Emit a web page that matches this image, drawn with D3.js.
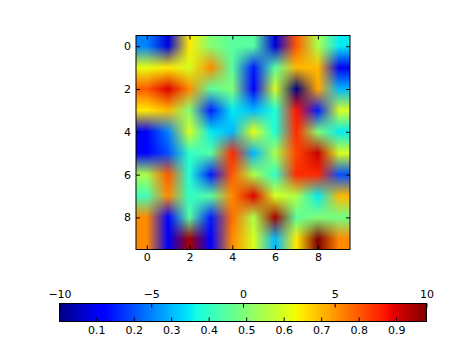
<!DOCTYPE html>
<html>
<head>
<meta charset="utf-8">
<script src="https://cdn.jsdelivr.net/npm/d3@7"></script>
<style>
  body { margin: 0; background: #fff; }
  text { font-family: "DejaVu Sans", sans-serif; font-size: 11px; fill: #000; }
</style>
</head>
<body>
<div id="chart"></div>
<script>
// 10x10 random field (row 0 at the top)
var values = [
  [0.25, 0.08, 0.65, 0.50, 0.45, 0.45, 0.08, 0.80, 0.55, 0.35],
  [0.62, 0.65, 0.60, 0.75, 0.45, 0.15, 0.45, 0.70, 0.70, 0.10],
  [0.80, 0.90, 0.75, 0.45, 0.50, 0.12, 0.60, 0.002, 0.72, 0.30],
  [0.65, 0.70, 0.50, 0.15, 0.35, 0.30, 0.38, 0.87, 0.15, 0.60],
  [0.10, 0.25, 0.60, 0.35, 0.30, 0.62, 0.38, 0.85, 0.50, 0.35],
  [0.12, 0.20, 0.40, 0.45, 0.85, 0.30, 0.55, 0.82, 0.92, 0.60],
  [0.55, 0.80, 0.38, 0.15, 0.80, 0.55, 0.40, 0.85, 0.85, 0.20],
  [0.42, 0.75, 0.40, 0.45, 0.75, 0.90, 0.60, 0.55, 0.35, 0.70],
  [0.75, 0.12, 0.45, 0.15, 0.78, 0.55, 0.95, 0.45, 0.50, 0.48],
  [0.75, 0.10, 0.95, 0.12, 0.75, 0.60, 0.30, 0.65, 0.981, 0.75]
];
var axisTicks = [0, 2, 4, 6, 8];
var barTicks = [0.1, 0.2, 0.3, 0.4, 0.5, 0.6, 0.7, 0.8, 0.9];
var topTicks = [-10, -5, 0, 5, 10];

var width = 474, height = 357;
var svg = d3.select('#chart').append('svg')
  .attr('width', width)
  .attr('height', height);

// jet colormap, one linear scale per channel
var jetR = d3.scaleLinear().domain([0, 0.35, 0.66, 0.89, 1]).range([0, 0, 1, 1, 0.5]).clamp(true);
var jetG = d3.scaleLinear().domain([0, 0.125, 0.375, 0.64, 0.91, 1]).range([0, 0, 1, 1, 0, 0]).clamp(true);
var jetB = d3.scaleLinear().domain([0, 0.11, 0.34, 0.65, 1]).range([0.5, 1, 1, 0, 0]).clamp(true);

var flat = d3.merge(values);
var norm = d3.scaleLinear().domain(d3.extent(flat)).range([0, 1]);
var jet = function(v) {
  var t = norm(v);
  return [jetR(t) * 255, jetG(t) * 255, jetB(t) * 255];
};

// image axes
var x = d3.scaleLinear().domain([-0.5, 9.5]).range([136, 350]);
var y = d3.scaleLinear().domain([-0.5, 9.5]).range([35.5, 249.5]);

var pw = Math.round(x(9.5) - x(-0.5));
var ph = Math.round(y(9.5) - y(-0.5));
var canvas = document.createElement('canvas');
canvas.width = pw;
canvas.height = ph;
var ctx = canvas.getContext('2d');
var img = ctx.createImageData(pw, ph);
var cols = values.map(function(row) { return row.map(jet); });

// bilinear resampling of the coloured cells
for (var py = 0; py < ph; py++) {
  var v = Math.max(0, Math.min(9, y.invert(y(-0.5) + py + 0.5)));
  var r0 = Math.min(8, Math.floor(v)), fy = v - r0;
  for (var px = 0; px < pw; px++) {
    var u = Math.max(0, Math.min(9, x.invert(x(-0.5) + px + 0.5)));
    var c0 = Math.min(8, Math.floor(u)), fx = u - c0;
    var k = (py * pw + px) * 4;
    for (var ch = 0; ch < 3; ch++) {
      var a = cols[r0][c0][ch] * (1 - fx) + cols[r0][c0 + 1][ch] * fx;
      var b = cols[r0 + 1][c0][ch] * (1 - fx) + cols[r0 + 1][c0 + 1][ch] * fx;
      img.data[k + ch] = a * (1 - fy) + b * fy;
    }
    img.data[k + 3] = 255;
  }
}
ctx.putImageData(img, 0, 0);

svg.append('image')
  .attr('x', x(-0.5))
  .attr('y', y(-0.5))
  .attr('width', pw)
  .attr('height', ph)
  .attr('href', canvas.toDataURL());

svg.append('g')
  .attr('transform', 'translate(0,' + y(9.5) + ')')
  .call(d3.axisBottom(x).tickValues(axisTicks).tickSize(-4).tickPadding(4));
svg.append('g')
  .attr('transform', 'translate(0,' + y(-0.5) + ')')
  .call(d3.axisTop(x).tickValues(axisTicks).tickSize(-4).tickFormat(''));
svg.append('g')
  .attr('transform', 'translate(' + x(-0.5) + ',0)')
  .call(d3.axisLeft(y).tickValues(axisTicks).tickSize(-4).tickPadding(5));
svg.append('g')
  .attr('transform', 'translate(' + x(9.5) + ',0)')
  .call(d3.axisRight(y).tickValues(axisTicks).tickSize(-4).tickFormat(''));

svg.append('rect')
  .attr('x', x(-0.5)).attr('y', y(-0.5))
  .attr('width', pw).attr('height', ph)
  .attr('fill', 'none').attr('stroke', '#000');

// colorbar
var barTop = 303.5, barH = 18;
var cx = d3.scaleLinear().domain(norm.domain()).range([59.5, 426.5]);
var cTop = d3.scaleLinear().domain([-10, 10]).range(cx.range());
var steps = d3.range(256).map(function(i) {
  return norm.domain()[0] + (norm.domain()[1] - norm.domain()[0]) * i / 256;
});
var stepW = (norm.domain()[1] - norm.domain()[0]) / 256;
var barEnd = cx.range()[1];

svg.append('g')
  .attr('shape-rendering', 'crispEdges')
  .selectAll('rect')
  .data(steps)
  .join('rect')
  .attr('x', function(d) { return Math.floor(cx(d)); })
  .attr('y', barTop)
  .attr('width', function(d) {
    return Math.min(barEnd, Math.ceil(cx(d + stepW)) + 1) - Math.floor(cx(d));
  })
  .attr('height', barH)
  .attr('fill', function(d) { return 'rgb(' + jet(d + stepW / 2).map(Math.round).join(',') + ')'; });

svg.append('g')
  .attr('transform', 'translate(0,' + (barTop + barH) + ')')
  .call(d3.axisBottom(cx).tickValues(barTicks).tickSize(-4).tickPadding(5).tickFormat(d3.format('.1f')));
svg.append('g')
  .attr('transform', 'translate(0,' + barTop + ')')
  .call(d3.axisTop(cTop).tickValues(topTicks).tickSize(-4).tickPadding(6).tickFormat(d3.format('d')));

svg.append('rect')
  .attr('x', cx.range()[0]).attr('y', barTop)
  .attr('width', cx.range()[1] - cx.range()[0]).attr('height', barH)
  .attr('fill', 'none').attr('stroke', '#000');

svg.selectAll('.domain').remove();
svg.selectAll('.tick text').style('font-family', '"DejaVu Sans", sans-serif').style('font-size', '11px');
svg.selectAll('.tick line').attr('stroke', '#000');
</script>
</body>
</html>
